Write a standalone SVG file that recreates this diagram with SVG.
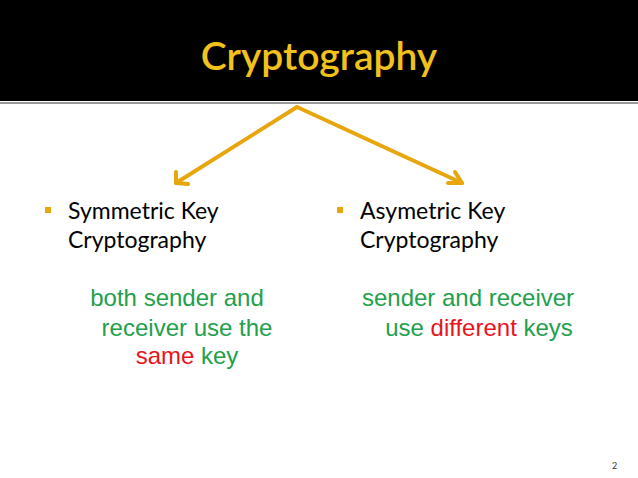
<svg xmlns="http://www.w3.org/2000/svg" width="638" height="478" viewBox="0 0 638 478">
<style>
.t{font-family:Lato,"Open Sans",sans-serif;font-size:23px;fill:#000}
.g{font-family:"Liberation Sans",Arial,sans-serif;font-size:24px;fill:#22a04b;text-anchor:middle}
.r{fill:#e8141c}
.a{stroke:#e8a60c;stroke-width:4;fill:none;stroke-linecap:round;stroke-linejoin:round}
</style>
<rect width="638" height="478" fill="#fff"/>
<g id="header">
<rect width="638" height="101" fill="#000"/>
<rect y="102" width="638" height="2" fill="#9a9a9a"/>
<text x="319" y="70" text-anchor="middle" font-family="Lato,'Open Sans',sans-serif" font-size="39" font-weight="600" fill="#f2c21b">Cryptography</text>
</g>
<g id="connectors">
<path class="a" d="M297 107 L176 183"/>
<path class="a" d="M176 172 L176 183 L188 184"/>
<path class="a" d="M297 107 L462 183"/>
<path class="a" d="M448 183 L462 183 L455 172"/>
</g>
<g id="left">
<rect x="45" y="207" width="6" height="6" fill="#e8a60c"/>
<text class="t" x="68" y="219">Symmetric Key</text>
<text class="t" x="68" y="248">Cryptography</text>
<text class="g" x="177" y="306">both sender and</text>
<text class="g" x="187" y="336">receiver use the</text>
<text class="g" x="187" y="364"><tspan class="r">same</tspan> key</text>
</g>
<g id="right">
<rect x="337" y="207" width="6" height="6" fill="#e8a60c"/>
<text class="t" x="360" y="219">Asymetric Key</text>
<text class="t" x="360" y="248">Cryptography</text>
<text class="g" x="468" y="306">sender and receiver</text>
<text class="g" x="479" y="336">use <tspan class="r">different</tspan> keys</text>
</g>
<text x="612" y="469" font-family="Lato,sans-serif" font-size="9" fill="#333">2</text>
</svg>
